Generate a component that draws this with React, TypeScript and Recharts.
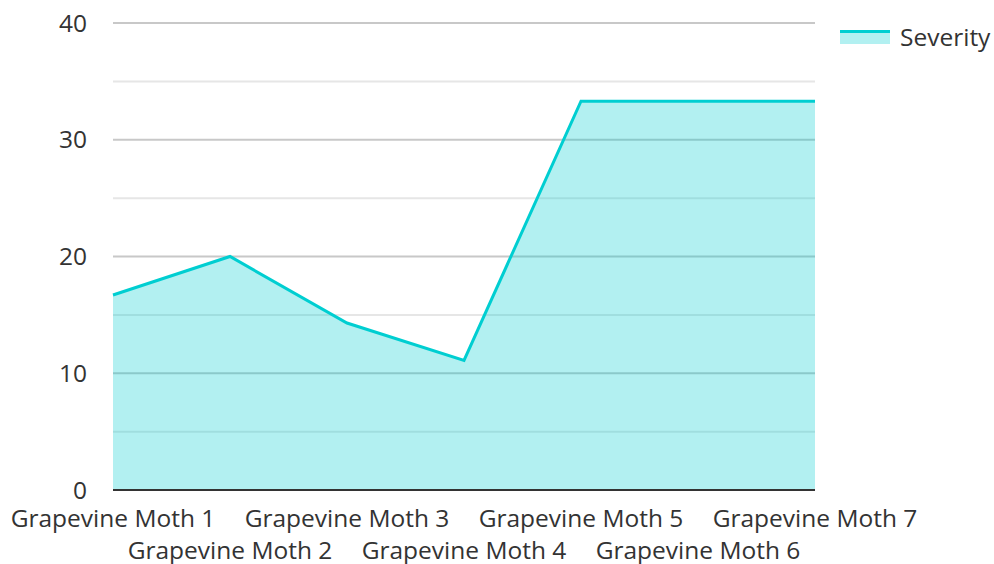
import { AreaChart, Area, XAxis, YAxis, CartesianGrid, Legend } from "recharts";

const moths = [
  "Grapevine Moth 1",
  "Grapevine Moth 2",
  "Grapevine Moth 3",
  "Grapevine Moth 4",
  "Grapevine Moth 5",
  "Grapevine Moth 6",
  "Grapevine Moth 7",
];
const severity = [16.7, 20, 14.3, 11.1, 33.3, 33.3, 33.3];
const majorTicks = [0, 10, 20, 30, 40];
const minorTicks = [5, 15, 25, 35];

const data = moths.map((name, i) => ({ name, severity: severity[i] }));

const FONT = "'Open Sans', sans-serif";
const FS = 24.5;
const TEAL = "#00ced1";

function MothTick({ x, y, payload, index }: any) {
  const dy = index % 2 === 0 ? 37 : 69;
  return (
    <text x={x} y={y + dy} textAnchor="middle" fill="#333" fontSize={FS} fontFamily={FONT}>
      {payload.value}
    </text>
  );
}

function SeverityLegend() {
  return (
    <div style={{ display: "flex", alignItems: "center", fontFamily: FONT, fontSize: FS, color: "#333" }}>
      <div style={{ width: 50, height: 14, marginRight: 10, position: "relative" }}>
        <div style={{ position: "absolute", top: 0, left: 0, width: 50, height: 3, background: TEAL }} />
        <div style={{ position: "absolute", top: 3, left: 0, width: 50, height: 11, background: TEAL, opacity: 0.3 }} />
      </div>
      <span>Severity</span>
    </div>
  );
}

export default function App() {
  return (
    <div style={{ position: "absolute", left: 0, top: 0, background: "#fff" }}>
      <AreaChart width={994} height={564} data={data} margin={{ top: 23, right: 179, bottom: 0, left: 0 }}>
        <CartesianGrid
          vertical={false}
          horizontalValues={minorTicks}
          stroke="#e6e6e6"
          strokeWidth={2}
        />
        <CartesianGrid vertical={false} stroke="#c8c8c8" strokeWidth={2} />
        <XAxis
          dataKey="name"
          interval={0}
          height={74}
          tickSize={0}
          tickMargin={0}
          tick={<MothTick />}
          axisLine={{ stroke: "#333", strokeWidth: 2 }}
          tickLine={false}
        />
        <YAxis
          width={113}
          domain={[0, 40]}
          ticks={majorTicks}
          tickSize={0}
          tickMargin={26}
          axisLine={false}
          tickLine={false}
          tick={{ fill: "#333", fontSize: FS, fontFamily: FONT }}
        />
        <Legend
          layout="horizontal"
          verticalAlign="middle"
          content={<SeverityLegend />}
          wrapperStyle={{ top: 20, left: 840, width: 154, height: 32 }}
        />
        <Area
          type="linear"
          dataKey="severity"
          stroke={TEAL}
          strokeWidth={3}
          fill={TEAL}
          fillOpacity={0.3}
          isAnimationActive={false}
          dot={false}
          activeDot={false}
        />
      </AreaChart>
    </div>
  );
}
